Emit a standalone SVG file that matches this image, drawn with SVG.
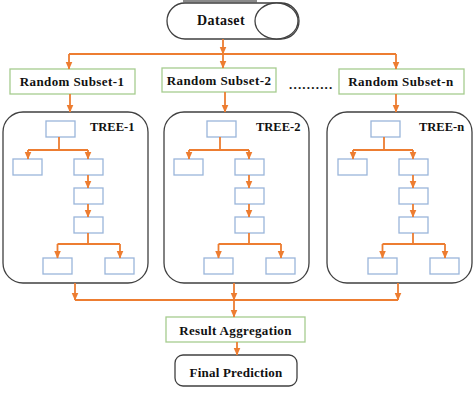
<svg xmlns="http://www.w3.org/2000/svg" width="474" height="406" viewBox="0 0 474 406">
<style>
.t{font-family:'Liberation Serif','Times New Roman','DejaVu Serif',serif;font-weight:700;fill:#111}
.sub{fill:#fff;stroke:#a6cc8f;stroke-width:1.3}
.tree{fill:#fff;stroke:#404040;stroke-width:1.3}
.nd{fill:#fff;stroke:#9ab5da;stroke-width:1.3}
.c{fill:none;stroke:#ed7d31;stroke-width:1.8}
.ca{fill:none;stroke:#ed7d31;stroke-width:1.8;marker-end:url(#ah)}
</style>
<defs>
<marker id="ah" markerUnits="userSpaceOnUse" markerWidth="8" markerHeight="8" viewBox="0 0 8 8" refX="7.5" refY="4" orient="auto">
<path d="M0,0.5 L8,4 L0,7.5 Z" fill="#ed7d31"/>
</marker>
</defs>
<rect width="474" height="406" fill="#fff"/>

<g id="dataset">
<rect x="183" y="0" width="74" height="2.5" fill="#8a8a8a"/>
<rect x="167" y="3" width="132" height="36" rx="18" fill="#fff" stroke="#404040" stroke-width="1.3"/>
<ellipse cx="276.5" cy="21" rx="21.5" ry="18" fill="#fff" stroke="#404040" stroke-width="1.3"/>
<text class="t" font-family="Liberation Serif, serif" x="221" y="24.5" font-size="14" letter-spacing="0.4" text-anchor="middle">Dataset</text>
</g>

<g id="subset1">
<rect class="sub" x="10" y="69" width="125" height="25"/>
<text class="t" font-family="Liberation Serif, serif" x="72" y="86" font-size="13" letter-spacing="0.4" text-anchor="middle">Random Subset-1</text>
</g>
<g id="subset2">
<rect class="sub" x="162" y="68" width="114" height="24"/>
<text class="t" font-family="Liberation Serif, serif" x="219" y="85" font-size="13" letter-spacing="0.4" text-anchor="middle">Random Subset-2</text>
</g>
<text class="t" font-family="Liberation Serif, serif" x="289" y="89" font-size="13" letter-spacing="1.2">..........</text>
<g id="subsetn">
<rect class="sub" x="339" y="69" width="125" height="25"/>
<text class="t" font-family="Liberation Serif, serif" x="401" y="86" font-size="13" letter-spacing="0.4" text-anchor="middle">Random Subset-n</text>
</g>

<g id="tree1">
<rect class="tree" x="3" y="112" width="145" height="171" rx="20"/>
<text class="t" font-family="Liberation Serif, serif" x="90" y="130.5" font-size="12.5">TREE-1</text>
<g id="tree1-nodes">
<rect class="nd" x="46" y="121" width="29" height="16"/>
<rect class="nd" x="13" y="159" width="29" height="16"/>
<rect class="nd" x="74" y="159" width="29" height="16"/>
<rect class="nd" x="74" y="188" width="29" height="16"/>
<rect class="nd" x="74" y="217" width="29" height="16"/>
<rect class="nd" x="43" y="258" width="29" height="16"/>
<rect class="nd" x="105" y="258" width="29" height="16"/>
</g>
<g id="tree1-edges">
<path class="c" d="M59,137 V150 M28,150 H88 M57.5,244 H120"/>
<path class="ca" d="M28,150 V159"/>
<path class="ca" d="M88,150 V159"/>
<path class="ca" d="M88,175 V188"/>
<path class="ca" d="M88,204 V217"/>
<path class="c" d="M88,233 V244"/>
<path class="ca" d="M57.5,244 V258"/>
<path class="ca" d="M120,244 V258"/>
</g>
</g>

<g id="tree2" transform="translate(161,0)">
<rect class="tree" x="3" y="112" width="145" height="171" rx="20"/>
<text class="t" font-family="Liberation Serif, serif" x="95" y="130.5" font-size="12.5">TREE-2</text>
<g id="tree2-nodes">
<rect class="nd" x="46" y="121" width="29" height="16"/>
<rect class="nd" x="13" y="159" width="29" height="16"/>
<rect class="nd" x="74" y="159" width="29" height="16"/>
<rect class="nd" x="74" y="188" width="29" height="16"/>
<rect class="nd" x="74" y="217" width="29" height="16"/>
<rect class="nd" x="43" y="258" width="29" height="16"/>
<rect class="nd" x="105" y="258" width="29" height="16"/>
</g>
<g id="tree2-edges">
<path class="c" d="M59,137 V150 M28,150 H88 M57.5,244 H120"/>
<path class="ca" d="M28,150 V159"/>
<path class="ca" d="M88,150 V159"/>
<path class="ca" d="M88,175 V188"/>
<path class="ca" d="M88,204 V217"/>
<path class="c" d="M88,233 V244"/>
<path class="ca" d="M57.5,244 V258"/>
<path class="ca" d="M120,244 V258"/>
</g>
</g>

<g id="treen" transform="translate(325,0)">
<rect class="tree" x="2" y="112" width="145" height="171" rx="20"/>
<text class="t" font-family="Liberation Serif, serif" x="94" y="130.5" font-size="12.5">TREE-n</text>
<g id="treen-nodes">
<rect class="nd" x="46" y="121" width="29" height="16"/>
<rect class="nd" x="13" y="159" width="29" height="16"/>
<rect class="nd" x="74" y="159" width="29" height="16"/>
<rect class="nd" x="74" y="188" width="29" height="16"/>
<rect class="nd" x="74" y="217" width="29" height="16"/>
<rect class="nd" x="43" y="258" width="29" height="16"/>
<rect class="nd" x="105" y="258" width="29" height="16"/>
</g>
<g id="treen-edges">
<path class="c" d="M59,137 V150 M28,150 H88 M57.5,244 H120"/>
<path class="ca" d="M28,150 V159"/>
<path class="ca" d="M88,150 V159"/>
<path class="ca" d="M88,175 V188"/>
<path class="ca" d="M88,204 V217"/>
<path class="c" d="M88,233 V244"/>
<path class="ca" d="M57.5,244 V258"/>
<path class="ca" d="M120,244 V258"/>
</g>
</g>

<g id="aggregation">
<rect class="sub" x="166" y="317" width="139" height="25"/>
<text class="t" font-family="Liberation Serif, serif" x="235.5" y="334.5" font-size="13" letter-spacing="0.35" text-anchor="middle">Result Aggregation</text>
</g>
<g id="final">
<rect x="175" y="355" width="122" height="31" rx="8" fill="#fff" stroke="#404040" stroke-width="1.3"/>
<text class="t" font-family="Liberation Serif, serif" x="236" y="376.5" font-size="13" letter-spacing="0.2" text-anchor="middle">Final Prediction</text>
</g>

<g id="connectors">
<path class="ca" d="M223,39 V54"/>
<path class="c" d="M69,54 H396"/>
<path class="ca" d="M69,54 V69"/>
<path class="ca" d="M223,54 V68"/>
<path class="ca" d="M396,54 V69"/>
<path class="ca" d="M70,94 V112"/>
<path class="ca" d="M225,92 V112"/>
<path class="ca" d="M396,94 V112"/>
<path class="ca" d="M75,283 V300"/>
<path class="ca" d="M234,283 V300"/>
<path class="ca" d="M398,283 V300"/>
<path class="c" d="M75,300 H398"/>
<path class="ca" d="M234,300 V317"/>
<path class="ca" d="M237,342 V355"/>
</g>
</svg>
